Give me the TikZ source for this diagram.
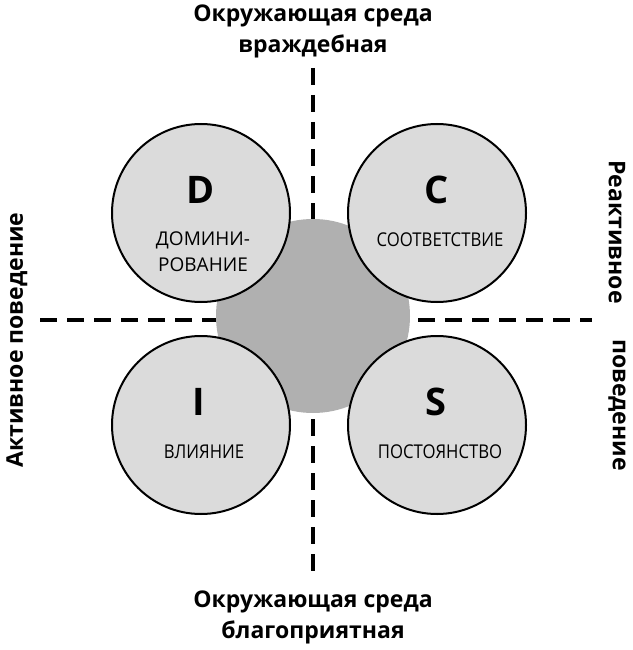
\documentclass[tikz,border=0pt]{standalone}
\usepackage{fontspec}
\setmainfont{Open Sans}
\begin{document}
\begin{tikzpicture}[x=1pt,y=-1pt,
  axis/.style={line width=4pt,dash pattern=on 17pt off 10pt},
  disc/.style={circle,draw=black,line width=2pt,fill=gray!28,minimum size=178pt,inner sep=0pt},
  hub/.style={circle,fill=gray!62,minimum size=194pt,inner sep=0pt},
  head/.style={font=\bfseries\fontsize{23}{31}\selectfont,align=center},
  letter/.style={font=\bfseries\fontsize{38}{42}\selectfont},
  lbl/.style={font=\fontsize{19}{26}\selectfont,align=center}]
\useasboundingbox (0,0) rectangle (632,650);
\coordinate (vt) at (313,68); \coordinate (vb) at (313,578);
\coordinate (hl) at (40,320); \coordinate (hr) at (592,320);
\draw[axis] (vt) -- (vb);
\draw[axis] (hl) -- (hr);
\node[hub] (c) at (313,316) {};
\node[disc] (D) at (201,213) {};
\node[disc] (C) at (437,213) {};
\node[disc] (I) at (201,425) {};
\node[disc] (S) at (437,425) {};
\node[letter] (dl) at (201,190) {D};
\node[lbl] (dt) at (203,252) {ДОМИНИ-\\РОВАНИЕ};
\node[lbl,xscale=0.88] (ct) at (440,240) {СООТВЕТСТВИЕ};
\node[letter] (cl) at (437,190) {C};
\node[letter] (il) at (199,402) {I};
\node[lbl,xscale=0.88] (it) at (204,452) {ВЛИЯНИЕ};
\node[letter] (sl) at (436,402) {S};
\node[lbl,xscale=0.88] (st) at (440,452) {ПОСТОЯНСТВО};
\node[head] (top) at (313,31) {Окружающая среда\\враждебная};
\node[head] (bot) at (313,617) {Окружающая среда\\благоприятная};
\node[head,rotate=90] (lft) at (17,340) {Активное поведение};
\node[head,rotate=-90] (rt1) at (617,232) {Реактивное};
\node[head,rotate=-90] (rt2) at (617,405) {поведение};
\end{tikzpicture}
\end{document}
